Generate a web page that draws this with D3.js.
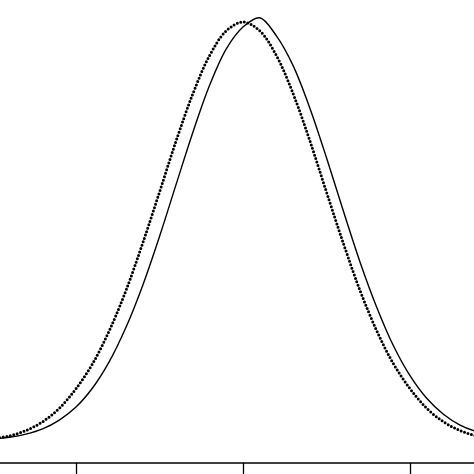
<!DOCTYPE html>
<html><head><meta charset="utf-8">
<script src="https://cdn.jsdelivr.net/npm/d3@7"></script>
<style>body{margin:0;background:#fff}</style>
</head><body><div id="chart"></div>
<script>
// Reference (dotted) curve
const refX = [-1.5,-1.4,-1.3,-1.2,-1.1,-1.0,-0.9,-0.8,-0.7,-0.6,-0.5,-0.4,-0.3,-0.2,-0.1,0,0.1,0.2,0.3,0.4,0.5,0.6,0.7,0.8,0.9,1.0,1.1,1.2,1.3,1.4,1.5];
const refY = [0.006,0.012,0.025,0.046,0.078,0.125,0.185,0.264,0.360,0.473,0.594,0.717,0.829,0.920,0.979,1,0.979,0.920,0.829,0.717,0.594,0.473,0.360,0.264,0.185,0.125,0.078,0.046,0.025,0.012,0.006];
// Observed (solid) curve
const obsX = [-1.5,-1.4,-1.3,-1.2,-1.1,-1.0,-0.9,-0.8,-0.7,-0.6,-0.5,-0.4,-0.3,-0.2,-0.1,0,0.1,0.2,0.3,0.4,0.5,0.6,0.7,0.8,0.9,1.0,1.1,1.2,1.3,1.4,1.5];
const obsY = [0.0046,0.0089,0.0165,0.029,0.050,0.081,0.127,0.190,0.272,0.372,0.488,0.613,0.737,0.849,0.936,0.988,1.01,0.967,0.896,0.795,0.676,0.550,0.428,0.320,0.228,0.156,0.102,0.064,0.038,0.022,0.012];
const tickVals = [-1, 0, 1];

const W = 474, H = 474;
const svg = d3.select("#chart").append("svg").attr("width", W).attr("height", H);

const x = d3.scaleLinear().domain([-1, 1]).range([76, 410]);
const y = d3.scaleLinear().domain([0, 1]).range([441, 22]);

const line = d3.line().curve(d3.curveCatmullRom).x(d => x(d[0])).y(d => y(d[1]));

svg.append("path")
    .datum(obsX.map((v, i) => [v, obsY[i]]))
    .attr("d", line)
    .attr("fill", "none")
    .attr("stroke", "#000")
    .attr("stroke-width", 1.4);

svg.append("path")
    .datum(refX.map((v, i) => [v, refY[i]]))
    .attr("d", line)
    .attr("fill", "none")
    .attr("stroke", "#000")
    .attr("stroke-width", 3)
    .attr("stroke-linecap", "round")
    .attr("stroke-dasharray", "0,3.6");

// X axis
const axis = svg.append("g")
    .attr("transform", "translate(0,463)")
    .call(d3.axisBottom(x).tickValues(tickVals).tickSize(12).tickFormat(""));
axis.select(".domain").attr("d", `M0,0H${W}`).attr("stroke-width", 1.5);
axis.selectAll(".tick line").attr("stroke-width", 1.3);
</script>
</body></html>
